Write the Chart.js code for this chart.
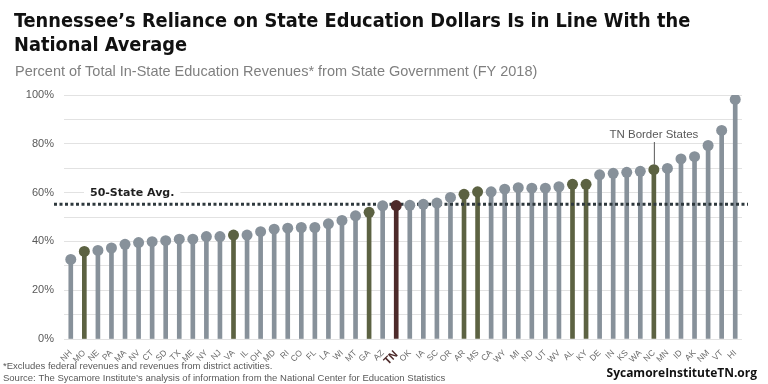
<!DOCTYPE html>
<html>
<head>
<meta charset="utf-8">
<script src="https://cdn.jsdelivr.net/npm/chart.js@4"></script>
<style>
  html, body { margin: 0; padding: 0; background: #fff; }
  #wrap { position: relative; width: 768px; height: 384px; }
</style>
</head>
<body>
<div id="wrap"><canvas id="stateChart" width="768" height="384"></canvas></div>
<script>
// Data
const states = ['NH','MO','NE','PA','MA','NV','CT','SD','TX','ME','NY','NJ','VA','IL','OH','MD','RI','CO','FL','LA',
  'WI','MT','GA','AZ','TN','OK','IA','SC','OR','AR','MS','CA','WY','MI','ND','UT','WV','AL','KY','DE',
  'IN','KS','WA','NC','MN','ID','AK','NM','VT','HI'];
const stateShare = [32.6, 35.9, 36.3, 37.3, 38.8, 39.5, 39.9, 40.3, 40.9, 40.9, 42.0, 42.0, 42.6, 42.6, 44.0, 45.0, 45.4, 45.7, 45.7, 47.2,
  48.6, 50.5, 51.9, 54.6, 54.7, 54.8, 55.2, 55.7, 58.0, 59.3, 60.3, 60.3, 61.4, 62.0, 61.8, 61.8, 62.4, 63.4, 63.4, 67.3,
  67.9, 68.3, 68.7, 69.4, 69.9, 73.8, 74.7, 79.3, 85.5, 98.2];
const borderStates = ['MO','VA','GA','AR','MS','AL','KY','NC'];
const nationalAvg = 55.2;
const yTicks = [0, 20, 40, 60, 80, 100];

const GREY = '#87919a';
const OLIVE = '#5c6242';
const TN_RED = '#4d2a2a';

const colorFor = s => s === 'TN' ? TN_RED : (borderStates.includes(s) ? OLIVE : GREY);
const colors = states.map(colorFor);

// avg line sits under the dots but over the stems
const avgLinePlugin = {
    id: 'avgLine',
    afterDatasetDraw(chart, args) {
        if (args.meta.type !== 'bar') return;
        const {ctx, chartArea, scales} = chart;
        const y = scales.y.getPixelForValue(nationalAvg);
        ctx.save();
        ctx.strokeStyle = '#2e383d';
        ctx.lineWidth = 3;
        ctx.setLineDash([3, 2.5]);
        ctx.beginPath();
        ctx.moveTo(chartArea.left - 10, y);
        ctx.lineTo(chartArea.right + 6, y);
        ctx.stroke();
        ctx.setLineDash([]);

        ctx.font = "bold 11px 'DejaVu Sans', sans-serif";
        const label = '50-State Avg.';
        const w = ctx.measureText(label).width;
        const ly = scales.y.getPixelForValue(60);
        ctx.fillStyle = '#fff';
        ctx.fillRect(chartArea.left + 20, ly - 7, w + 12, 14);
        ctx.fillStyle = '#1f1f1f';
        ctx.textBaseline = 'middle';
        ctx.fillText(label, chartArea.left + 26, ly + 1);
        ctx.restore();
    }
};

// titles, notes and the border-state callout
const textPlugin = {
    id: 'texts',
    afterDraw(chart) {
        const {ctx, scales} = chart;
        ctx.save();
        ctx.textBaseline = 'alphabetic';
        ctx.fillStyle = '#111';
        ctx.font = "bold 19.8px 'Liberation Sans Narrow', 'DejaVu Sans Condensed', sans-serif";
        ctx.fillText('Tennessee\u2019s Reliance on State Education Dollars Is in Line With the', 14, 27);
        ctx.fillText('National Average', 14, 51);

        ctx.fillStyle = '#7f7f7f';
        ctx.font = "14.5px 'Liberation Sans', Arial, sans-serif";
        ctx.fillText('Percent of Total In-State Education Revenues* from State Government (FY 2018)', 15, 76);

        ctx.fillStyle = '#595959';
        ctx.font = "9.5px 'Liberation Sans', Arial, sans-serif";
        ctx.fillText('*Excludes federal revenues and revenues from district activities.', 3, 369);
        ctx.fillText('Source: The Sycamore Institute\u2019s analysis of information from the National Center for Education Statistics', 3, 381);

        ctx.fillStyle = '#111';
        ctx.font = "bold 12px 'Open Sans', sans-serif";
        ctx.textAlign = 'right';
        ctx.fillText('SycamoreInstituteTN.org', 757, 377);

        // callout for NC
        const i = states.indexOf('NC');
        const x = scales.x.getPixelForValue(i);
        const yDot = scales.y.getPixelForValue(stateShare[i]);
        ctx.textAlign = 'center';
        ctx.fillStyle = '#595959';
        ctx.font = "11.5px 'Liberation Sans', Arial, sans-serif";
        ctx.fillText('TN Border States', x, 138);
        ctx.strokeStyle = '#595959';
        ctx.lineWidth = 1;
        ctx.beginPath();
        ctx.moveTo(x + 0.5, 142);
        ctx.lineTo(x + 0.5, yDot - 5);
        ctx.stroke();
        ctx.restore();
    }
};

new Chart(document.getElementById('stateChart').getContext('2d'), {
    type: 'bar',
    data: {
        labels: states,
        datasets: [{
            type: 'bar',
            data: stateShare,
            backgroundColor: colors,
            barThickness: 4,
            borderWidth: 0,
            order: 2
        }, {
            type: 'line',
            data: stateShare,
            showLine: false,
            pointRadius: 5.5,
            pointHoverRadius: 5.5,
            pointBorderWidth: 0,
            pointBackgroundColor: colors,
            order: 1
        }]
    },
    options: {
        responsive: false,
        animation: false,
        layout: { padding: { top: 95, right: 26, bottom: 0, left: 0 } },
        plugins: {
            legend: { display: false },
            tooltip: { enabled: false }
        },
        scales: {
            x: {
                offset: true,
                grid: { display: false },
                border: { display: false },
                afterFit: s => { s.height = 45; },
                ticks: {
                    autoSkip: false,
                    minRotation: 45,
                    maxRotation: 45,
                    padding: 1,
                    color: c => states[c.index] === 'TN' ? TN_RED : '#6b6b6b',
                    font: c => states[c.index] === 'TN'
                        ? { family: "'Liberation Sans', Arial, sans-serif", size: 11, weight: 'bold' }
                        : { family: "'Liberation Sans', Arial, sans-serif", size: 8.5 }
                }
            },
            y: {
                min: 0,
                max: 100,
                border: { display: false },
                grid: { color: '#e2e2e2', drawTicks: false },
                afterFit: s => { s.width = 64; },
                ticks: {
                    stepSize: 10,
                    padding: 10,
                    color: '#595959',
                    font: { family: "'Liberation Sans', Arial, sans-serif", size: 11 },
                    callback: v => yTicks.includes(v) ? v + '%' : ''
                }
            }
        }
    },
    plugins: [avgLinePlugin, textPlugin]
});
</script>
</body>
</html>
